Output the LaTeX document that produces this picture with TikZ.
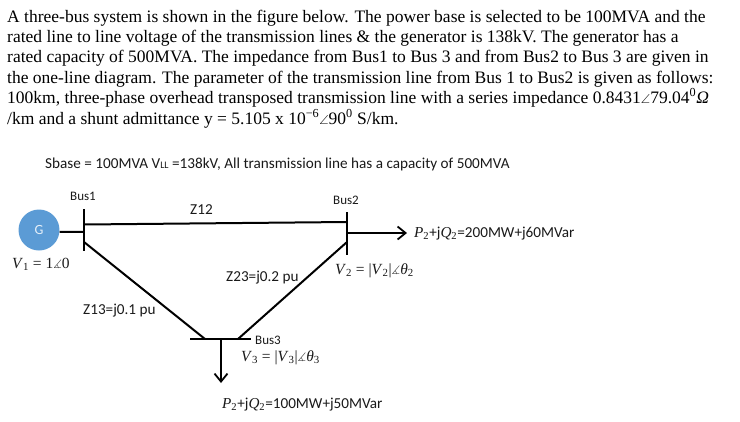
\documentclass[tikz,border=0pt]{standalone}
\usepackage{amssymb}
\usepackage{fontspec}
\setmainfont{Liberation Serif}
\newfontfamily\calib{Carlito}
\usetikzlibrary{arrows.meta}
\definecolor{gblue}{RGB}{91,155,213}
\newcommand{\mvar}[2]{{\rmfamily\textit{#1}\textsubscript{#2}}}
\tikzset{
  x=1pt,y=-1pt,
  body/.style={anchor=base west,inner sep=0pt,font=\fontsize{17.5}{20}\selectfont},
  lbl/.style={anchor=base west,inner sep=0pt,font=\calib\fontsize{15.2}{16}\selectfont,text=black!90},
  small/.style={anchor=base west,inner sep=0pt,font=\calib\fontsize{13}{14}\selectfont,text=black!90},
  eqn/.style={anchor=base west,inner sep=0pt,font=\fontsize{15.5}{16}\selectfont,text=black!90},
  wire/.style={line width=2pt,black},
  load/.style={wire,-{Straight Barb[length=8pt,width=13pt,line width=1.8pt]}},
}
\begin{document}
\begin{tikzpicture}
\useasboundingbox (0,0) rectangle (740,421);
\node[body] (t1) at (7,22) {A three-bus system is shown in the figure below. The power base is selected to be 100MVA and the};
\node[body] (t2) at (7,42) {rated line to line voltage of the transmission lines \& the generator is 138kV. The generator has a};
\node[body] (t3) at (7,62.5) {rated capacity of 500MVA. The impedance from Bus1 to Bus 3 and from Bus2 to Bus 3 are given in};
\node[body] (t4) at (7,83) {the one-line diagram. The parameter of the transmission line from Bus 1 to Bus2 is given as follows:};
\node[body] (t5) at (7,103) {100km, three-phase overhead transposed transmission line with a series impedance 0.8431{\fontsize{13}{13}\selectfont$\angle$}79.04\textsuperscript{0}\textit{Ω}};
\node[body] (t6) at (7,124) {/km and a shunt admittance y = 5.105 x 10\textsuperscript{−6}{\fontsize{13}{13}\selectfont$\angle$}90\textsuperscript{0} S/km.};
\node[lbl] (sb) at (45,168) {Sbase = 100MVA V{\fontsize{10}{10}\selectfont LL} =138kV, All transmission line has a capacity of 500MVA};

\node[circle,fill=gblue,inner sep=0pt,minimum size=41pt,text=white!85!gblue,font=\calib\fontsize{14}{16}\selectfont] (G) at (39,230) {G};

\coordinate (b1t) at (84,209);
\coordinate (b1b) at (84,251);
\coordinate (b1g) at (84,232);
\coordinate (b1a) at (84,224.5);
\coordinate (b1c) at (84,242);
\coordinate (b2t) at (347,212);
\coordinate (b2b) at (347,255);
\coordinate (b2a) at (347,222);
\coordinate (b2l) at (347,233);
\coordinate (b2c) at (347,242);
\coordinate (b3l) at (190,339);
\coordinate (b3r) at (251,339);
\coordinate (b3a) at (205,339);
\coordinate (b3b) at (238,339);
\coordinate (b3d) at (221,339);
\coordinate (l2) at (407,233);
\coordinate (l3) at (221,383);

\draw[wire] (b1t) -- (b1b);
\draw[wire] (b2t) -- (b2b);
\draw[wire] (b3l) -- (b3r);
\draw[wire] (G.-5) -- (b1g);
\draw[wire] (b1a) -- (b2a);
\draw[wire] (b1c) -- (b3a);
\draw[wire] (b2c) -- (b3b);
\draw[load] (b2l) -- (l2);
\draw[load] (b3d) -- (l3);

\node[small] (n1) at (70,200.5) {Bus1};
\node[small] (n2) at (333,204.5) {Bus2};
\node[small] (n3) at (255,344) {Bus3};
\node[lbl] (z12) at (190,214) {Z12};
\node[lbl] (z13) at (83,314) {Z13=j0.1 pu};
\node[lbl] (z23) at (226,281) {Z23=j0.2 pu};
\node[eqn] (v1) at (12,268) {\mvar{V}{1} = 1{\fontsize{12}{12}\selectfont$\measuredangle$}0};
\node[eqn] (v2) at (335,274) {\mvar{V}{2} = |\mvar{V}{2}|{\fontsize{12}{12}\selectfont$\measuredangle$}\mvar{θ}{2}};
\node[eqn] (v3) at (241,361) {\mvar{V}{3} = |\mvar{V}{3}|{\fontsize{12}{12}\selectfont$\measuredangle$}\mvar{θ}{3}};
\node[lbl] (p2) at (414,237) {\mvar{P}{2}+j\mvar{Q}{2}=200MW+j60MVar};
\node[lbl] (p3) at (222,408) {\mvar{P}{2}+j\mvar{Q}{2}=100MW+j50MVar};
\end{tikzpicture}
\end{document}
